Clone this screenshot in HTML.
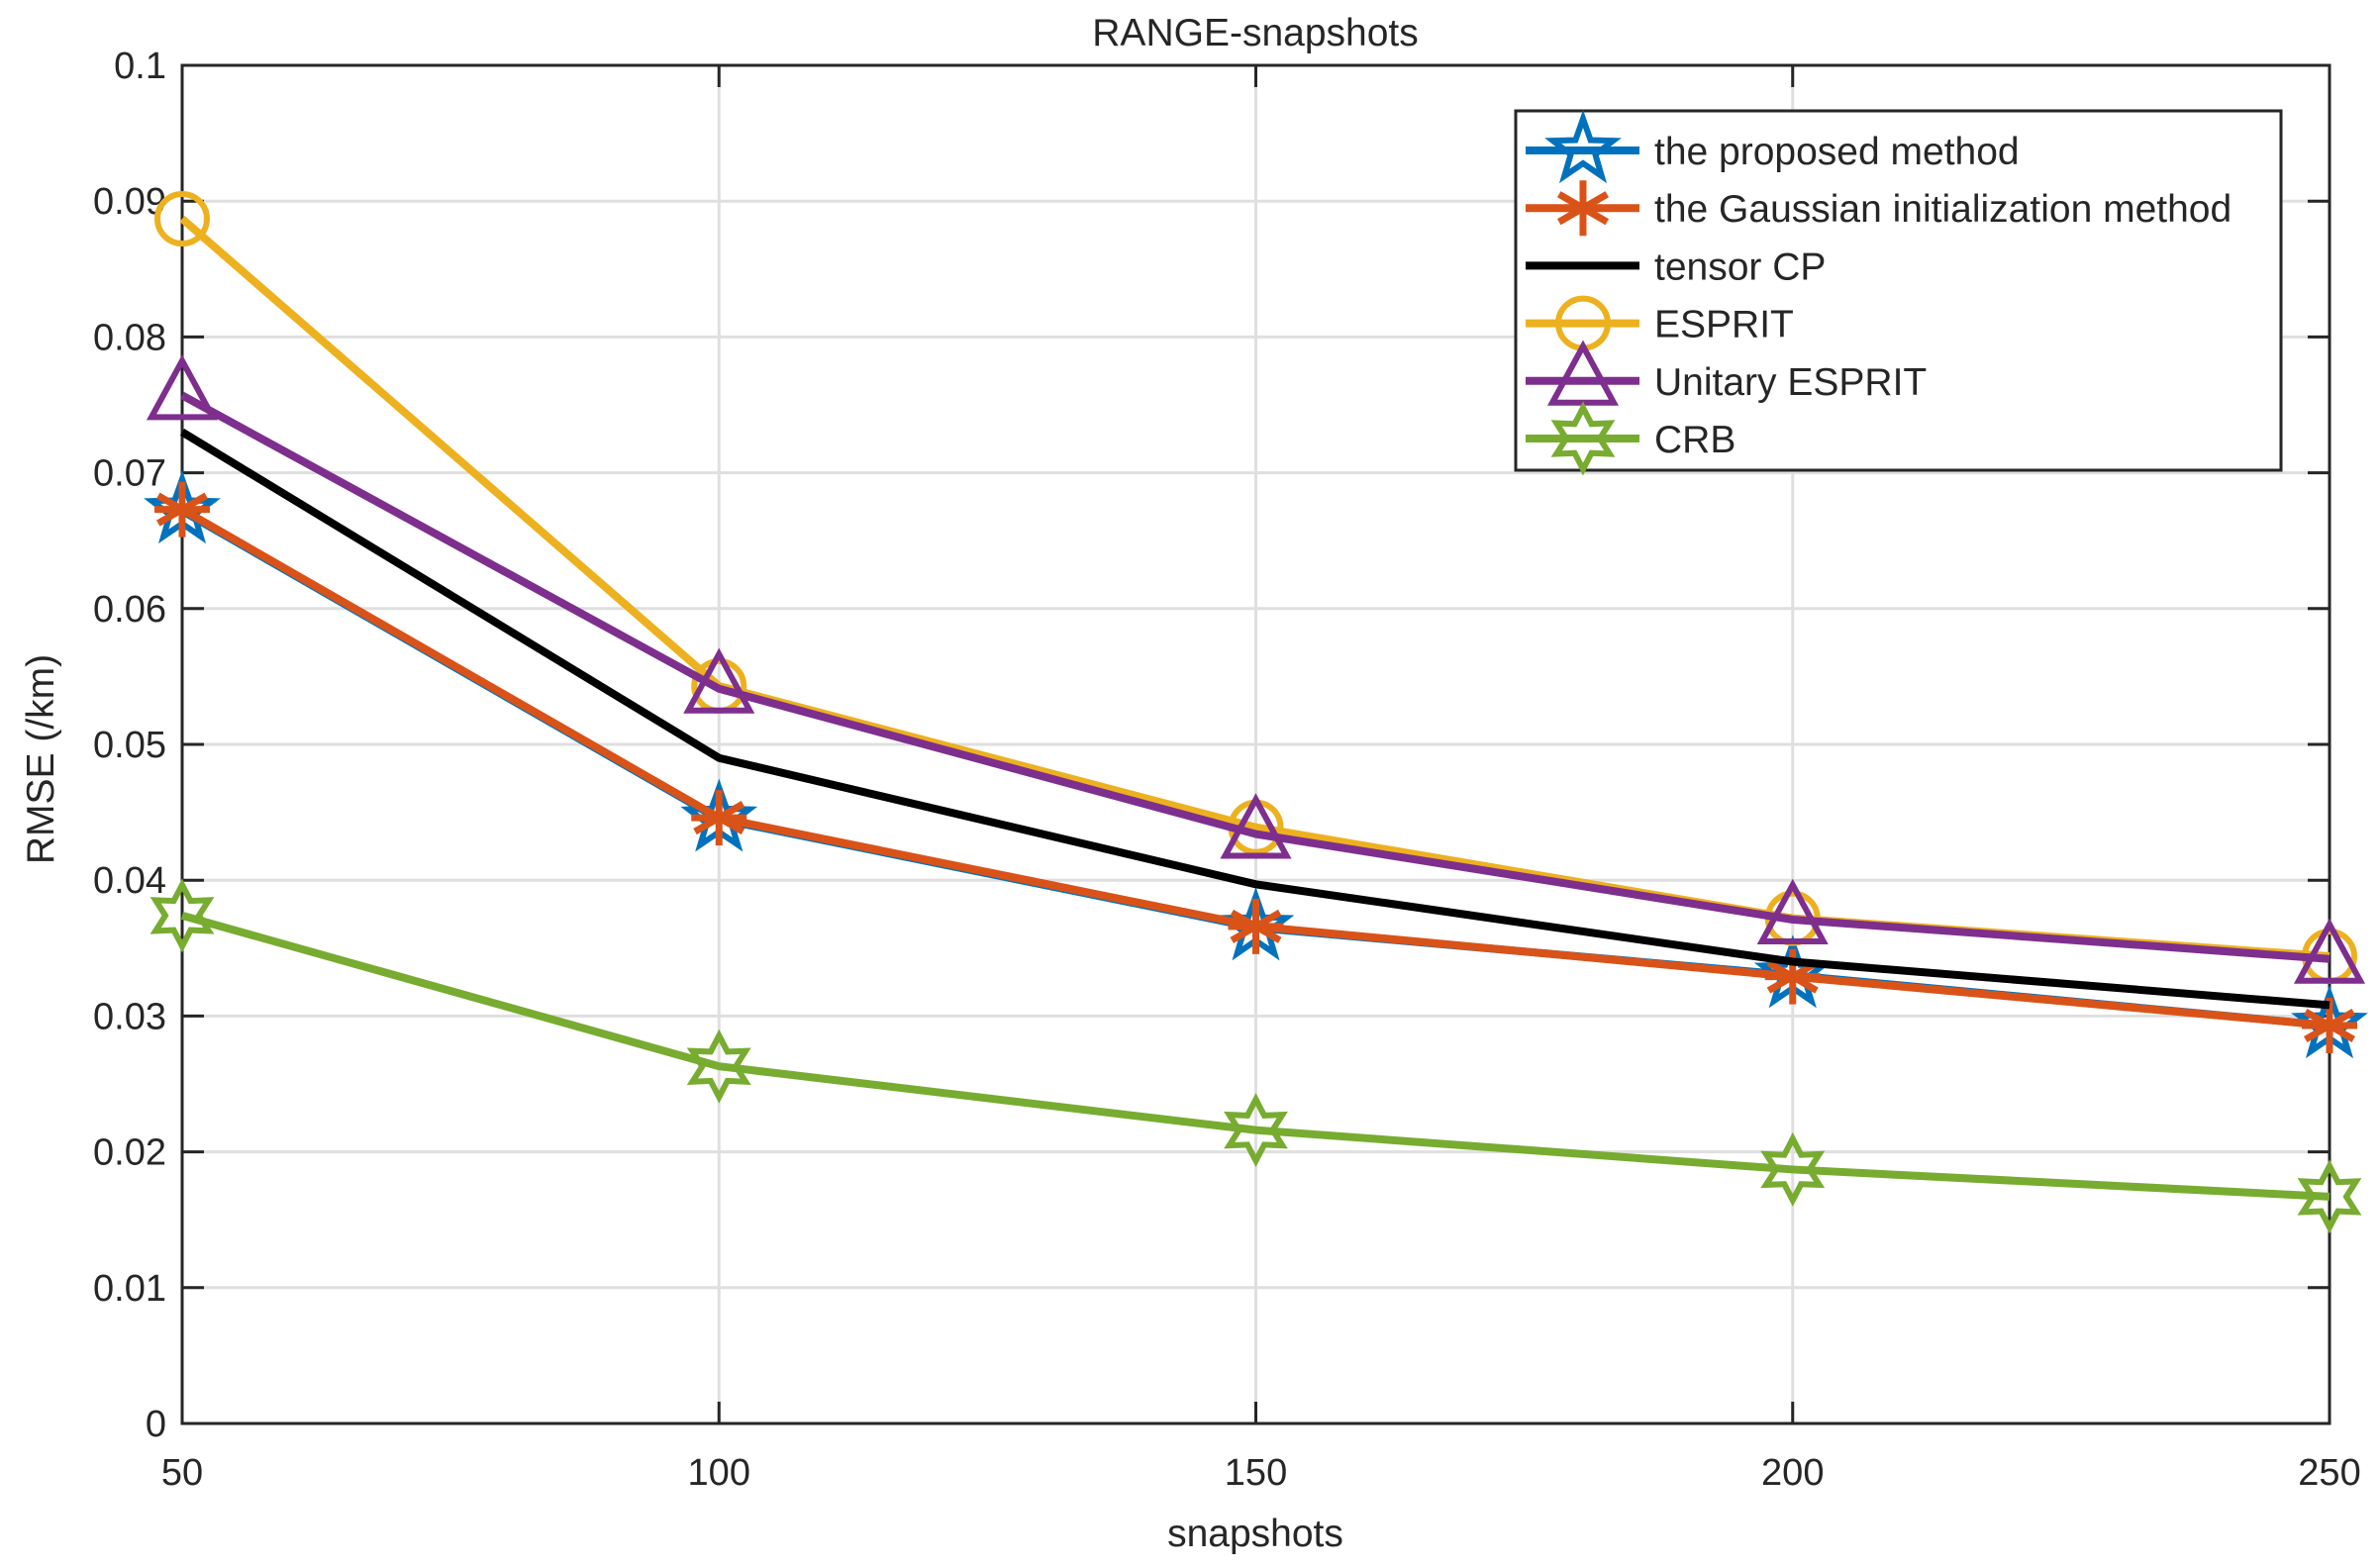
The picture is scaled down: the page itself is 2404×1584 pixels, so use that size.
<!DOCTYPE html>
<html><head><meta charset="utf-8"><style>
html,body{margin:0;padding:0;background:#fff}
svg{display:block}
text{font-family:"Liberation Sans",sans-serif;fill:#262626}
</style></head><body>
<svg id="s" width="2404" height="1584" xmlns="http://www.w3.org/2000/svg"></svg>
<script>
const L=184,R=2353,T=66,B=1438;
const X=v=>L+(v-50)/200*(R-L), Y=v=>B-v/0.1*(B-T);
let h='';
for(let i=1;i<4;i++){h+=`<line x1="${X(50+i*50)}" y1="${T}" x2="${X(50+i*50)}" y2="${B}" stroke="#dfdfdf" stroke-width="3"/>`;}
for(let i=1;i<10;i++){h+=`<line x1="${L}" y1="${Y(i/100)}" x2="${R}" y2="${Y(i/100)}" stroke="#dfdfdf" stroke-width="3"/>`;}
for(let i=0;i<=4;i++){const x=X(50+i*50);h+=`<line x1="${x}" y1="${B}" x2="${x}" y2="${B-22}" stroke="#262626" stroke-width="3"/><line x1="${x}" y1="${T}" x2="${x}" y2="${T+22}" stroke="#262626" stroke-width="3"/>`;
h+=`<text x="${x}" y="${B+62}" font-size="38" text-anchor="middle">${50+i*50}</text>`;}
const yl=['0','0.01','0.02','0.03','0.04','0.05','0.06','0.07','0.08','0.09','0.1'];
for(let i=0;i<=10;i++){const y=Y(i/100);h+=`<line x1="${L}" y1="${y}" x2="${L+22}" y2="${y}" stroke="#262626" stroke-width="3"/><line x1="${R}" y1="${y}" x2="${R-22}" y2="${y}" stroke="#262626" stroke-width="3"/>`;
h+=`<text x="${L-16}" y="${y+13}" font-size="38" text-anchor="end">${yl[i]}</text>`;}
h+=`<rect x="${L}" y="${T}" width="${R-L}" height="${B-T}" fill="none" stroke="#262626" stroke-width="3"/>`;
h+=`<text x="1268" y="46" font-size="39" text-anchor="middle">RANGE-snapshots</text>`;
h+=`<text x="1268" y="1562" font-size="39" text-anchor="middle">snapshots</text>`;
h+=`<text transform="translate(54,767) rotate(-90)" font-size="39" text-anchor="middle">RMSE (/km)</text>`;
function star(x,y,n,ro,ri,c){let p=[];for(let k=0;k<2*n;k++){const r=k%2?ri:ro,a=-Math.PI/2+k*Math.PI/n;p.push((x+r*Math.cos(a)).toFixed(1)+','+(y+r*Math.sin(a)).toFixed(1));}return `<polygon points="${p.join(' ')}" fill="none" stroke="${c}" stroke-width="6"/>`;}
function mk(t,x,y,c){
 if(t=='p')return star(x,y,5,32,13,c);
 if(t=='a'){let s='';for(const a of [0,60,120]){const r=a*Math.PI/180;s+=`<line x1="${x-28*Math.sin(r)}" y1="${y-28*Math.cos(r)}" x2="${x+28*Math.sin(r)}" y2="${y+28*Math.cos(r)}" stroke="${c}" stroke-width="7"/>`;}s+=`<line x1="${x-28}" y1="${y}" x2="${x+28}" y2="${y}" stroke="${c}" stroke-width="7"/>`;return s;}
 if(t=='o')return `<circle cx="${x}" cy="${y}" r="25" fill="none" stroke="${c}" stroke-width="6"/>`;
 if(t=='t')return `<polygon points="${x},${y-35} ${x+31},${y+22} ${x-31},${y+22}" fill="none" stroke="${c}" stroke-width="6"/>`;
 if(t=='h')return star(x,y,6,31,17,c);
 return '';}
const S=[
['#0072BD','p',[0.0672,0.0445,0.0365,0.0330,0.0293],'the proposed method'],
['#D95319','a',[0.0673,0.0446,0.0366,0.0329,0.0293],'the Gaussian initialization method'],
['#000000','',[0.0730,0.0490,0.0397,0.0340,0.0308],'tensor CP'],
['#EDB120','o',[0.0887,0.0543,0.0439,0.0372,0.0344],'ESPRIT'],
['#7E2F8E','t',[0.0757,0.0541,0.0434,0.0371,0.0342],'Unitary ESPRIT'],
['#77AC30','h',[0.0374,0.0263,0.0216,0.0187,0.0167],'CRB']];
for(const [c,m,d] of S){const pts=d.map((v,i)=>[X(50+i*50),Y(v)]);
 h+=`<polyline points="${pts.map(p=>p.join(',')).join(' ')}" fill="none" stroke="${c}" stroke-width="8" stroke-linejoin="round"/>`;
 for(const p of pts)h+=mk(m,p[0],p[1],c);}
h+=`<rect x="1531" y="112" width="773" height="363" fill="#fff" stroke="#262626" stroke-width="3"/>`;
S.forEach(([c,m,d,n],i)=>{const y=152+i*58.2;h+=`<line x1="1541" y1="${y}" x2="1656" y2="${y}" stroke="${c}" stroke-width="8"/>`+mk(m,1599,y,c)+`<text x="1671" y="${y+14}" font-size="39">${n}</text>`;});
document.getElementById('s').innerHTML=h;
</script>
</body></html>
